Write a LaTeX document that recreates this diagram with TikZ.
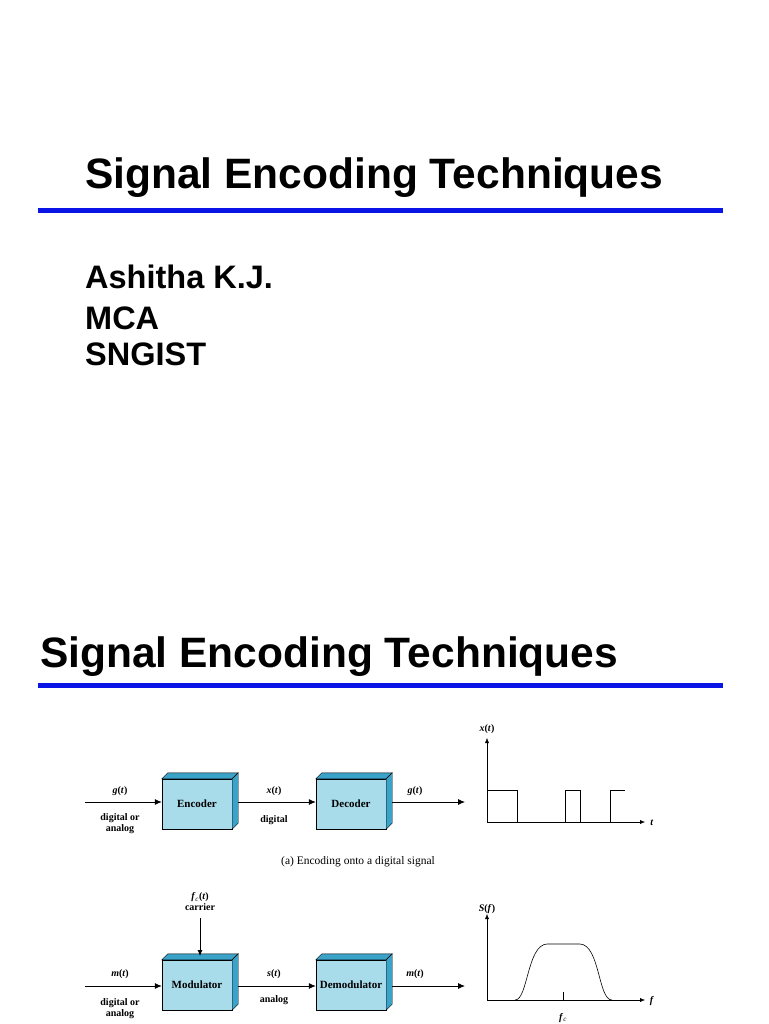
\documentclass[tikz,border=0pt]{standalone}
\usepackage{fontspec}
\setmainfont{Liberation Serif}
\newfontfamily\hsans{Liberation Sans}
\usetikzlibrary{arrows.meta}
\definecolor{boxfront}{HTML}{A9DCEB}
\definecolor{boxside}{HTML}{3BA2C8}
\definecolor{rulebl}{HTML}{0A14E6}
\tikzset{
  title/.style={font=\hsans\bfseries\fontsize{42.5}{44}\selectfont,anchor=west,inner sep=0},
  sub/.style={font=\hsans\bfseries\fontsize{32.5}{34}\selectfont,anchor=west,inner sep=0},
  lbl/.style={font=\bfseries\fontsize{10}{11}\selectfont,inner sep=0,align=center},
  blk/.style={draw,fill=boxfront,minimum width=70pt,minimum height=50pt,inner sep=0,font=\bfseries\fontsize{11}{12}\selectfont},
  sig/.style={thick,-{Latex[length=7pt,width=6pt]}},
  ax/.style={thin,-{Latex[length=5pt,width=4pt]}},
}
\newcommand{\depth}[1]{%
  \fill[boxside,draw=black] (#1.north west) -- ++(6,-6) -- ([xshift=6pt,yshift=6pt]#1.north east) -- (#1.north east) -- cycle;
  \fill[boxside,draw=black] (#1.north east) -- ++(6,-6) -- ([xshift=6pt,yshift=6pt]#1.south east) -- (#1.south east) -- cycle;}
\newcommand{\iv}[1]{\textit{#1}}
\begin{document}
\begin{tikzpicture}[x=1pt,y=-1pt]
\useasboundingbox (0,0) rectangle (768,1024);
\fill[white] (0,0) rectangle (768,1024);
\node[title] (t1) at (85,178) {Signal Encoding Techniques};
\fill[rulebl] (38,208.5) rectangle (723,213.5);
\node[sub] (n1) at (85,277) {Ashitha K.J.};
\node[sub] (n2) at (85,318) {MCA};
\node[sub] (n3) at (85,354) {SNGIST};
\node[title] (t2) at (40,657) {Signal Encoding Techniques};
\fill[rulebl] (38,682.5) rectangle (723,687.5);
% diagram a
\node[blk] (enc) at (197,804) {Encoder};
\node[blk] (dec) at (351,804) {Decoder};
\depth{enc}\depth{dec}
\coordinate (ain) at (85,802);
\coordinate (aout) at (465,802);
\draw[sig] (ain) -- (ain -| enc.west);
\draw[sig] ([xshift=6pt]enc.east |- ain) -- (ain -| dec.west);
\draw[sig] ([xshift=6pt]dec.east |- ain) -- (aout);
\node[lbl] (ga) at (120,791) {\iv{g}(\iv{t})};
\node[lbl] (ga2) at (120,824) {digital or\\analog};
\node[lbl] (xa) at (274,791) {\iv{x}(\iv{t})};
\node[lbl] (xa2) at (274,820) {digital};
\node[lbl] (go) at (415,791) {\iv{g}(\iv{t})};
\coordinate (o1) at (487,822);
\coordinate (y1) at (487,738);
\coordinate (x1) at (645,822);
\draw[ax] (o1) -- (y1);
\draw[ax] (o1) -- (x1);
\node[lbl] (xt) at (487,729) {\iv{x}(\iv{t})};
\node[lbl] (tt) at (652,823) {\iv{t}};
\draw[semithick] (487,790) -- (517,790) -- (517,822) -- (565,822) -- (565,790) -- (580,790) -- (580,822) -- (610,822) -- (610,790) -- (625,790);
\node[lbl,font=\fontsize{11.5}{12}\selectfont] (capa) at (358,862) {(a) Encoding onto a digital signal};
% diagram b
\node[blk] (mod) at (197,985) {Modulator};
\node[blk] (dem) at (351,985) {Demodulator};
\depth{mod}\depth{dem}
\coordinate (bin) at (85,986);
\coordinate (bout) at (465,986);
\coordinate (car) at (200,918);
\coordinate (cartip) at (200,956);
\draw[sig] (bin) -- (bin -| mod.west);
\draw[sig] ([xshift=6pt]mod.east |- bin) -- (bin -| dem.west);
\draw[sig] ([xshift=6pt]dem.east |- bin) -- (bout);
\draw[thick,-{Latex[length=6pt,width=5pt]}] (car) -- (cartip);
\node[lbl] (fc) at (200,902) {\iv{f}$_{\mathit{c}}$(\iv{t})\\carrier};
\node[lbl] (mi) at (120,974) {\iv{m}(\iv{t})};
\node[lbl] (mi2) at (120,1009) {digital or\\analog};
\node[lbl] (st) at (274,974) {\iv{s}(\iv{t})};
\node[lbl] (st2) at (274,1000) {analog};
\node[lbl] (mo) at (415,974) {\iv{m}(\iv{t})};
\coordinate (o2) at (487,1000);
\draw[ax] (o2) -- (487,914);
\draw[ax] (o2) -- (645,1000);
\node[lbl] (sf) at (487,909) {\iv{S}(\iv{f})};
\node[lbl] (ff) at (652,1001) {\iv{f}};
\draw (563,992) -- (563,1000);
\node[lbl,anchor=north] (fcl) at (563,1013) {\iv{f}$_{\mathit{c}}$};
\draw[semithick] (515,1000) .. controls (528,1000) and (527,945) .. (547,944) -- (580,944) .. controls (600,945) and (598,1000) .. (612,1000);
\end{tikzpicture}
\end{document}
